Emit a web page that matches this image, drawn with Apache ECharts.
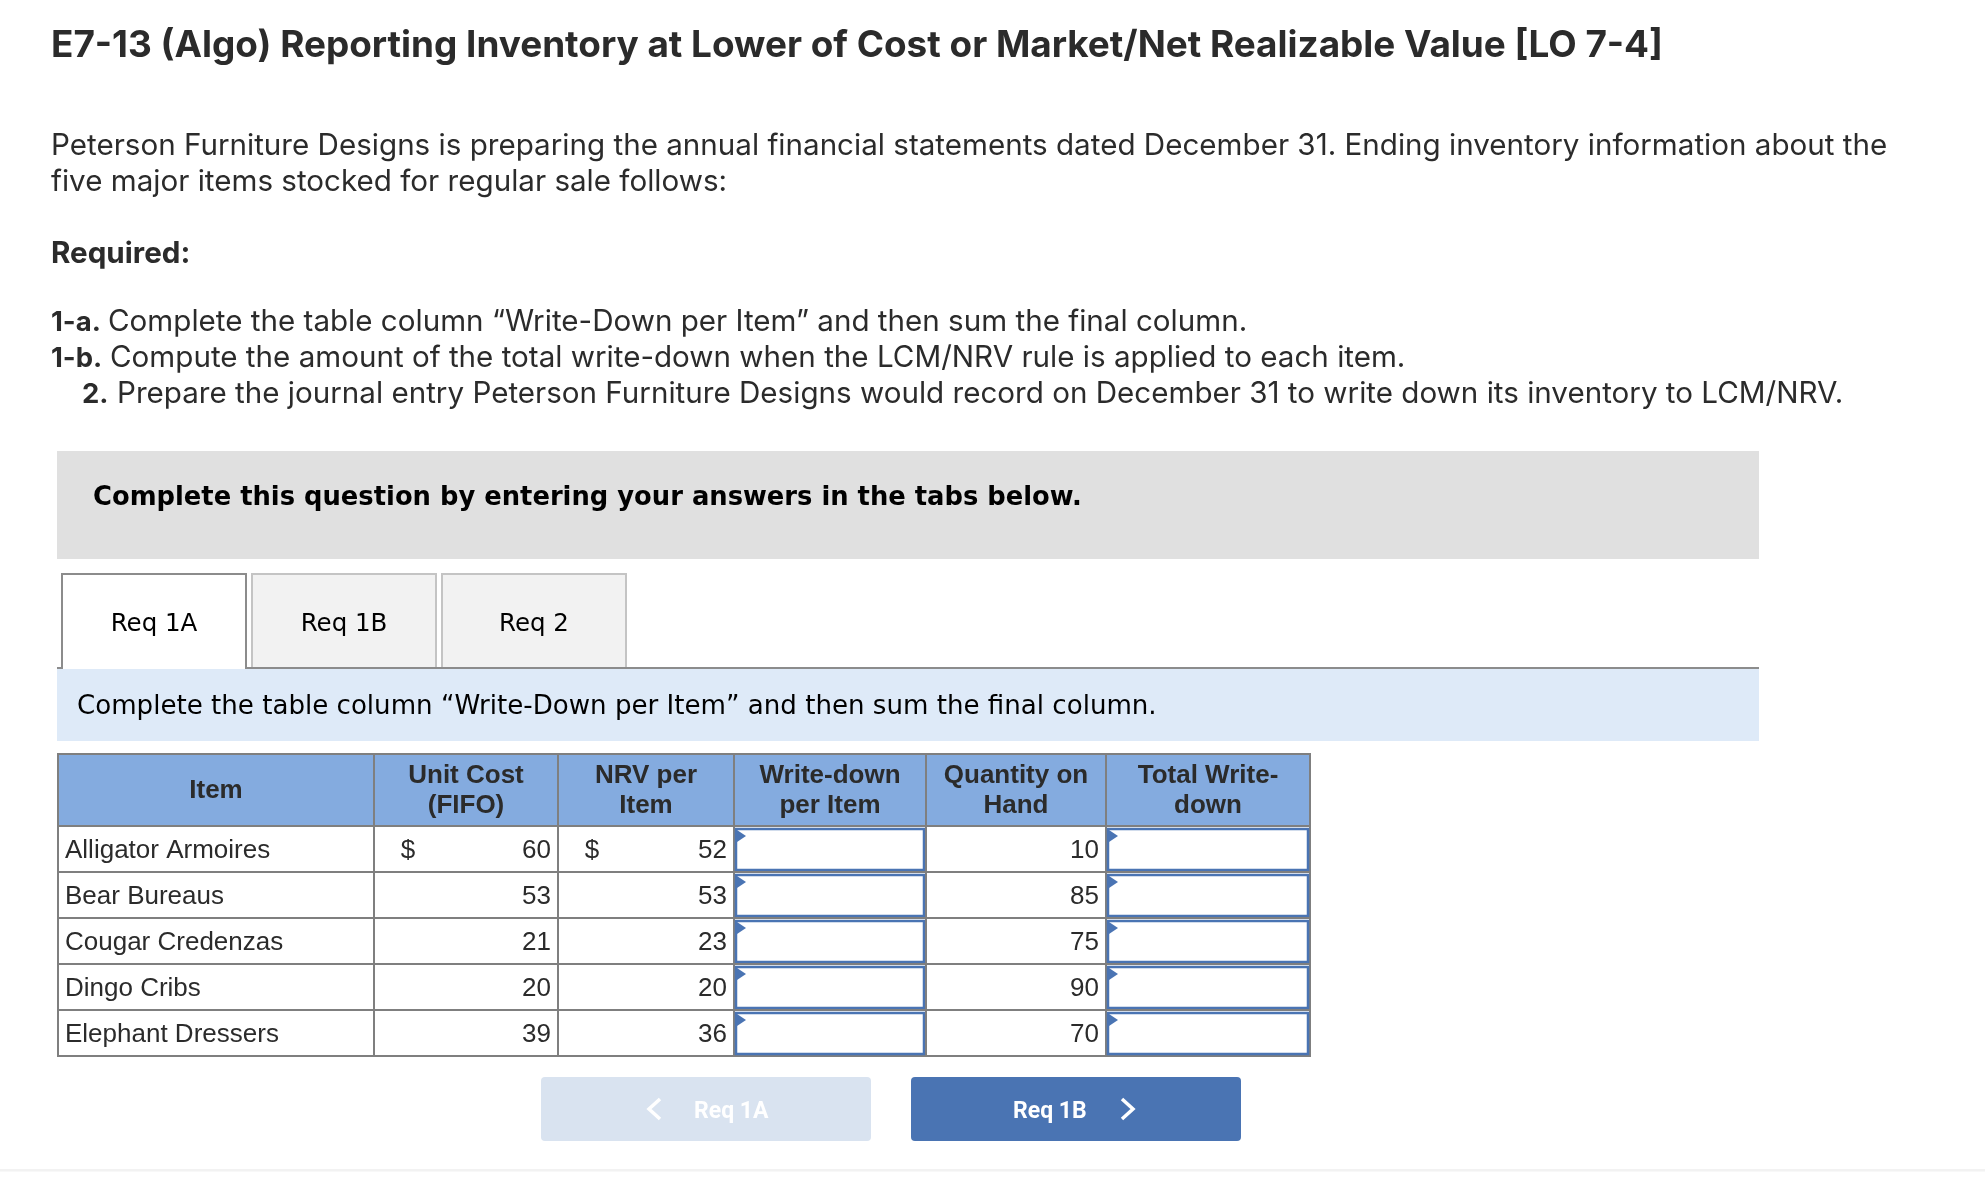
<!DOCTYPE html>
<html>
<head>
<meta charset="utf-8">
<title>E7-13</title>
<script src="https://cdn.jsdelivr.net/npm/echarts@6/dist/echarts.min.js"></script>
<style>
  html, body { margin: 0; padding: 0; background: #fff; }
  #main { width: 1985px; height: 1178px; }
</style>
</head>
<body>
<div id="main"></div>
<script>
// table contents
var headers = ['Item', 'Unit Cost\n(FIFO)', 'NRV per\nItem', 'Write-down\nper Item', 'Quantity on\nHand', 'Total Write-\ndown'];
var items = ['Alligator Armoires', 'Bear Bureaus', 'Cougar Credenzas', 'Dingo Cribs', 'Elephant Dressers'];
var unitCost = [60, 53, 21, 20, 39];
var nrvPerItem = [52, 53, 23, 20, 36];
var quantityOnHand = [10, 85, 75, 90, 70];

// page text
var pageTitle = 'E7-13 (Algo) Reporting Inventory at Lower of Cost or Market/Net Realizable Value [LO 7-4]';
var introLines = [
  'Peterson Furniture Designs is preparing the annual financial statements dated December 31. Ending inventory information about the',
  'five major items stocked for regular sale follows:'
];
var requiredLabel = 'Required:';
var reqLabels = ['1-a.', '1-b.', '2.'];
var reqTexts = [
  'Complete the table column \u201cWrite-Down per Item\u201d and then sum the final column.',
  'Compute the amount of the total write-down when the LCM/NRV rule is applied to each item.',
  'Prepare the journal entry Peterson Furniture Designs would record on December 31 to write down its inventory to LCM/NRV.'
];
var panelText = 'Complete this question by entering your answers in the tabs below.';
var tabNames = ['Req 1A', 'Req 1B', 'Req 2'];
var bandText = 'Complete the table column \u201cWrite-Down per Item\u201d and then sum the final column.';
var prevLabel = 'Req 1A';
var nextLabel = 'Req 1B';

// table layout, measured from the left and top of the table
var colEdges = [0, 316, 500, 676, 868, 1048, 1252];
var rowEdges = [0, 72, 118, 164, 210, 256, 302];

var INK = '#2b2b2b';
var GRID = '#7f7f7f';
var HEAD = '#84abdf';
var BLUE = '#4a74b3';
var SANS = 'Inter';
var ARIAL = '"Liberation Sans"';
var VERD = '"DejaVu Sans"';
// distance from canvas "middle" up to the baseline, per em
var MID = { Inter: 0.36, '"DejaVu Sans"': 0.346, Roboto: 0.34 };

// one record per cell: col, row, text
var cells = [];
headers.forEach(function (h, c) { cells.push([c, 0, h]); });
items.forEach(function (name, r) {
  cells.push([0, r + 1, name]);
  cells.push([1, r + 1, unitCost[r]]);
  cells.push([2, r + 1, nrvPerItem[r]]);
  cells.push([3, r + 1, '']);
  cells.push([4, r + 1, quantityOnHand[r]]);
  cells.push([5, r + 1, '']);
});

function renderCell(params, api) {
  var c = api.value(0), r = api.value(1);
  var txt = cells[params.dataIndex][2];
  var tl = api.coord([colEdges[c], rowEdges[r]]);
  var br = api.coord([colEdges[c + 1], rowEdges[r + 1]]);
  var w = br[0] - tl[0], h = br[1] - tl[1];
  var kids = [{
    type: 'rect',
    shape: { x: tl[0], y: tl[1], width: w, height: h },
    style: { fill: r === 0 ? HEAD : '#fff', stroke: GRID, lineWidth: 2 }
  }];
  if (r === 0) {
    kids.push({
      type: 'text',
      style: {
        x: tl[0] + w / 2, y: tl[1] + h / 2 + 1, text: txt, fill: INK,
        font: 'bold 26px ' + ARIAL, lineHeight: 30, align: 'center', verticalAlign: 'middle'
      }
    });
  } else if (c === 0) {
    kids.push({
      type: 'text',
      style: {
        x: tl[0] + 7, y: tl[1] + h / 2 + 2, text: txt, fill: INK,
        font: '26px ' + ARIAL, align: 'left', verticalAlign: 'middle'
      }
    });
  } else if (c === 3 || c === 5) {
    // answer box with the little corner marker
    kids.push({
      type: 'rect',
      shape: { x: tl[0] + 2, y: tl[1] + 3, width: w - 4, height: h - 5 },
      style: { fill: '#fff', stroke: BLUE, lineWidth: 2.5 }
    });
    kids.push({
      type: 'polygon',
      shape: { points: [[tl[0] + 1.5, tl[1] + 3], [tl[0] + 12, tl[1] + 10], [tl[0] + 1.5, tl[1] + 17]] },
      style: { fill: BLUE }
    });
  } else {
    kids.push({
      type: 'text',
      style: {
        x: br[0] - 7, y: tl[1] + h / 2 + 2, text: String(txt), fill: INK,
        font: '26px ' + ARIAL, align: 'right', verticalAlign: 'middle'
      }
    });
    if (r === 1 && c < 3) {
      kids.push({
        type: 'text',
        style: {
          x: tl[0] + 34, y: tl[1] + h / 2 + 2, text: '$', fill: INK,
          font: '26px ' + ARIAL, align: 'center', verticalAlign: 'middle'
        }
      });
    }
  }
  return { type: 'group', children: kids };
}

// y is the text baseline
function label(x, y, text, size, weight, family, fill, align) {
  return {
    type: 'text', x: x, y: y - size * MID[family],
    style: {
      text: text, font: weight + ' ' + size + 'px ' + family,
      fill: fill || INK, align: align || 'left', verticalAlign: 'middle'
    }
  };
}
function box(x, y, w, h, fill, stroke, lw, r) {
  return {
    type: 'rect',
    shape: { x: x, y: y, width: w, height: h, r: r || 0 },
    style: { fill: fill, stroke: stroke || null, lineWidth: lw || 0 }
  };
}
function chevron(points) {
  return {
    type: 'polyline',
    shape: { points: points },
    style: { fill: null, stroke: '#fff', lineWidth: 3.5 }
  };
}

var page = [];
page.push(label(51, 59, pageTitle, 36.9, 'bold', SANS));
page.push(label(51, 157, introLines[0], 29.6, 'normal', SANS));
page.push(label(51, 193, introLines[1], 29.6, 'normal', SANS));
page.push(label(51, 264.5, requiredLabel, 29.6, 'bold', SANS));

var reqBase = [333, 369, 405];
var reqLabelX = [51, 51, 82];
var reqTextX = [108, 110, 117];
reqLabels.forEach(function (t, i) {
  page.push(label(reqLabelX[i], reqBase[i], t, 27.5, 'bold', SANS));
  page.push(label(reqTextX[i], reqBase[i], reqTexts[i], 29.6, 'normal', SANS));
});

// grey instruction panel
page.push(box(57, 451, 1702, 108, '#e0e0e0'));
page.push(label(93, 507, panelText, 25.8, 'bold', VERD, '#000'));

// tabs
var tabX = [62, 252, 442];
page.push(box(tabX[0], 574, 184, 96, '#fff', '#8c8c8c', 2));
tabNames.forEach(function (t, i) {
  if (i > 0) page.push(box(tabX[i], 574, 184, 94, '#f2f2f2', '#c4c4c4', 2));
  page.push(label(tabX[i] + 92, 633, t, 24.5, 'normal', VERD, '#000', 'center'));
});
page.push(box(57, 667, 1702, 2, '#8c8c8c'));
page.push(box(63, 666, 182, 4, '#fff'));
page.push(box(57, 669, 1702, 72, '#deeaf8'));
page.push(label(77, 716, bandText, 26.1, 'normal', VERD, '#000'));

// previous / next buttons
page.push(box(541, 1077, 330, 64, '#d9e3f0', null, 0, 4));
page.push(chevron([[660, 1099], [649, 1109], [660, 1119]]));
page.push(label(694, 1120, prevLabel, 23, 'bold', 'Roboto', '#fff'));
page.push(box(911, 1077, 330, 64, BLUE, null, 0, 4));
page.push(chevron([[1122, 1099], [1133, 1109], [1122, 1119]]));
page.push(label(1013, 1120, nextLabel, 23, 'bold', 'Roboto', '#fff'));

// faint rule at the foot of the page
page.push(box(0, 1169, 1985, 2.5, '#f2f2f2'));

var chart = echarts.init(document.getElementById('main'), null, { width: 1985, height: 1178 });
chart.setOption({
  animation: false,
  backgroundColor: '#fff',
  graphic: { elements: page },
  grid: { left: 58, top: 754, width: 1252, height: 302 },
  xAxis: { type: 'value', min: 0, max: 1252, show: false },
  yAxis: { type: 'value', min: 0, max: 302, inverse: true, show: false },
  series: [{
    type: 'custom',
    coordinateSystem: 'cartesian2d',
    clip: false,
    silent: true,
    renderItem: renderCell,
    encode: { x: 0, y: 1 },
    data: cells.map(function (d) { return [d[0], d[1]]; })
  }]
});
</script>
</body>
</html>
